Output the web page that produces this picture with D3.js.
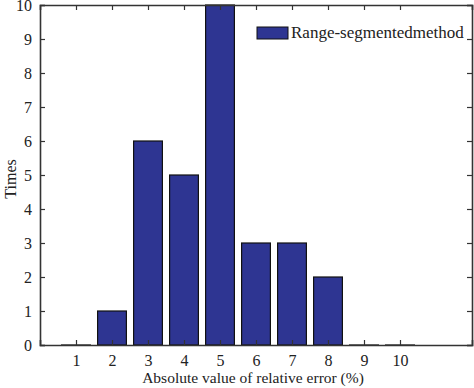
<!DOCTYPE html>
<html>
<head>
<meta charset="utf-8">
<script src="https://cdn.jsdelivr.net/npm/d3@7"></script>
<style>
  body { margin: 0; background: #fff; }
  text { font-family: "Liberation Serif", "DejaVu Serif", serif; fill: #222; }
</style>
</head>
<body>
<div id="vis"></div>
<script>
// values
const errors = [1, 2, 3, 4, 5, 6, 7, 8, 9, 10];
const times = [0, 1, 6, 5, 10, 3, 3, 2, 0, 0];
const yTicks = [0, 1, 2, 3, 4, 5, 6, 7, 8, 9, 10];
const seriesName = "Range-segmentedmethod";

const width = 474, height = 388;
const margin = { top: 5, right: 2, bottom: 43, left: 40 };
const barColor = "#2e3592";

const svg = d3.select("#vis").append("svg")
    .attr("width", width)
    .attr("height", height);

const x = d3.scaleLinear().domain([0, 12]).range([margin.left, width - margin.right]);
const y = d3.scaleLinear().domain([0, 10]).range([height - margin.bottom, margin.top]);
const barW = (x(1) - x(0)) * 0.8;

// bars (zero bars still show their edge on the baseline)
svg.append("g").selectAll("rect")
    .data(errors)
    .enter()
    .append("rect")
    .attr("x", (d) => x(d) - barW / 2)
    .attr("y", (d, i) => y(times[i]))
    .attr("width", barW)
    .attr("height", (d, i) => Math.max(y(0) - y(times[i]), 0.01))
    .attr("fill", barColor)
    .attr("stroke", "#111")
    .attr("stroke-width", 1.2);

// axes, matlab style: box on, ticks pointing in
const tickLen = 5;
const axisColor = "#333";

const gBottom = svg.append("g")
    .attr("transform", `translate(0,${y(0)})`)
    .call(d3.axisBottom(x).tickValues(errors).tickSize(-tickLen).tickPadding(10));
const gTop = svg.append("g")
    .attr("transform", `translate(0,${y(10)})`)
    .call(d3.axisTop(x).tickValues(errors).tickSize(-tickLen).tickFormat(""));
const gLeft = svg.append("g")
    .attr("transform", `translate(${x(0)},0)`)
    .call(d3.axisLeft(y).tickValues(yTicks).tickSize(-tickLen).tickPadding(8));
const gRight = svg.append("g")
    .attr("transform", `translate(${x(12)},0)`)
    .call(d3.axisRight(y).tickValues(yTicks).tickSize(-tickLen).tickFormat(""));

[gBottom, gTop, gLeft, gRight].forEach((g) => {
  g.select(".domain").attr("stroke", axisColor).attr("stroke-width", 1.6);
  g.selectAll(".tick line").attr("stroke", axisColor).attr("stroke-width", 1.2);
  g.selectAll(".tick text")
      .style("font-family", '"Liberation Serif", serif')
      .style("font-size", "16px")
      .attr("fill", "#222");
});

// axis titles
svg.append("text")
    .attr("x", 253)
    .attr("y", height - 5)
    .attr("text-anchor", "middle")
    .style("font-size", "15.5px")
    .text("Absolute value of relative error (%)");

svg.append("text")
    .attr("transform", `translate(16,${y(5) + 4}) rotate(-90)`)
    .attr("text-anchor", "middle")
    .style("font-size", "16px")
    .text("Times");

// legend
const legend = svg.append("g").attr("transform", "translate(257,27)");
legend.append("rect")
    .attr("width", 31)
    .attr("height", 12)
    .attr("fill", barColor)
    .attr("stroke", "#111")
    .attr("stroke-width", 1);
legend.append("text")
    .attr("x", 34)
    .attr("y", 11)
    .style("font-size", "17px")
    .text(seriesName);
</script>
</body>
</html>
